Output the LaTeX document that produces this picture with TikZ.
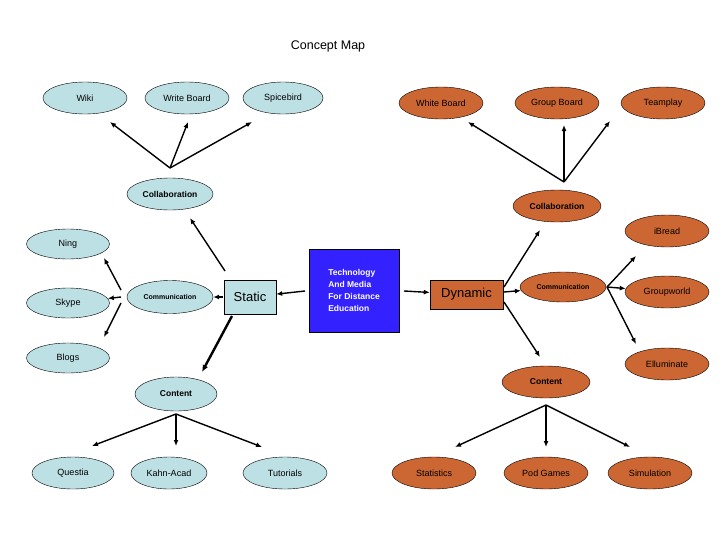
\documentclass[tikz,border=0pt]{standalone}
\usepackage{fontspec}
\setmainfont{Liberation Sans}
\usetikzlibrary{arrows.meta,shapes.geometric}
\definecolor{lb}{HTML}{BDE0E4}
\definecolor{org}{HTML}{CC6633}
\definecolor{cblue}{HTML}{3322FF}
\begin{document}
\begin{tikzpicture}[x=1pt,y=-1pt,
  el/.style={draw=black,ellipse,minimum width=84pt,minimum height=32pt,inner sep=0pt,font=\fontsize{9}{10}\selectfont},
  lel/.style={el,fill=lb},
  oel/.style={el,fill=org},
  bld/.style={font=\fontsize{8.5}{10}\selectfont\bfseries},
  sm/.style={font=\fontsize{7}{8}\selectfont\bfseries},
  arr/.style={-{Latex[length=6pt,width=5pt]},line width=1.4pt},
  barr/.style={-{Latex[length=7pt,width=6pt]},line width=2.4pt}]
\useasboundingbox[fill=white] (0,0) rectangle (728,546);
\node (title) at (328,46) {\fontsize{12.5}{14}\selectfont Concept Map};
% centre
\node (tech) [draw=black,fill=cblue,minimum width=90pt,minimum height=83pt,text=white,align=left,font=\fontsize{8.5}{12}\selectfont\bfseries,inner sep=0pt] at (354,290.5) {Technology\\And Media\\For Distance\\Education};
\node (static) [draw=black,fill=lb,minimum width=52pt,minimum height=34pt,inner sep=0pt,font=\fontsize{13}{15}\selectfont] at (250,297) {Static};
\node (dyn) [draw=black,fill=org,minimum width=73pt,minimum height=29pt,inner sep=0pt,font=\fontsize{13}{15}\selectfont] at (466.5,294.5) {Dynamic};
% left
\node[lel] (wiki) at (85,98) {Wiki};
\node[lel] (wb) at (187,98) {Write Board};
\node[lel,minimum width=80pt] (spice) at (283,98) {Spicebird};
\node[lel,bld,minimum width=86pt] (lcol) at (170,194) {Collaboration};
\node[lel,minimum width=83pt,minimum height=30pt] (ning) at (68,244) {Ning};
\node[lel,minimum width=83pt,minimum height=30pt] (skype) at (68,303) {Skype};
\node[lel,minimum width=83pt,minimum height=30pt] (blogs) at (68,358) {Blogs};
\node[lel,sm,minimum width=86pt,minimum height=33pt] (lcom) at (170,297) {Communication};
\node[lel,bld,minimum width=82pt,minimum height=34pt] (lcon) at (176,394) {Content};
\node[lel,minimum width=82pt] (questia) at (73,473) {Questia};
\node[lel,minimum width=76pt] (kahn) at (169,473) {Kahn-Acad};
\node[lel] (tut) at (285,473) {Tutorials};
% right
\node[oel] (whb) at (441,103) {White Board};
\node[oel] (gb) at (557,103) {Group Board};
\node[oel] (team) at (663,103) {Teamplay};
\node[oel,bld,minimum width=88pt] (rcol) at (557,206) {Collaboration};
\node[oel,sm,minimum width=86pt,minimum height=30pt] (rcom) at (563,287) {Communication};
\node[oel,bld,minimum width=88pt] (rcon) at (546,382) {Content};
\node[oel] (ibread) at (667,231) {iBread};
\node[oel] (gw) at (667,292) {Groupworld};
\node[oel] (ell) at (667,364) {Elluminate};
\node[oel] (stat) at (434,473) {Statistics};
\node[oel] (pod) at (546,473) {Pod Games};
\node[oel] (sim) at (650,473) {Simulation};
% hubs / ends
\coordinate (lh1) at (170,168); \coordinate (lh2) at (122,297); \coordinate (lh3) at (176,414);
\coordinate (rh1) at (564,182); \coordinate (rh2) at (607,287); \coordinate (rh3) at (546,405);
\coordinate (ls) at (225,271); \coordinate (ls2) at (232,316); \coordinate (ls3) at (223,297);
\coordinate (rd) at (504,287); \coordinate (rd2) at (504,302); \coordinate (rd3) at (504,292);
\coordinate (tl) at (305,291); \coordinate (tr) at (404,291);
% left arrows
\draw[arr] (lh1) -- (110,122);
\draw[arr] (lh1) -- (188,122);
\draw[arr] (lh1) -- (252,122);
\draw[arr] (ls) -- (190,218);
\draw[arr] (ls3) -- (lcom);
\draw[arr] (121,290) -- (104,258);
\draw[arr] (121,297) -- (skype);
\draw[arr] (121,303) -- (104,337);
\draw[barr] (ls2) -- (202,372);
\draw[arr] (lh3) -- (92,446);
\draw[arr] (lh3) -- (176,446);
\draw[arr] (lh3) -- (262,447);
\draw[arr] (tl) -- (static);
\draw[arr] (tr) -- (dyn);
% right arrows
\draw[arr] (rh1) -- (468,122);
\draw[arr] (rh1) -- (564,125);
\draw[arr] (rh1) -- (610,121);
\draw[arr] (rd) -- (540,230);
\draw[arr] (rd3) -- (rcom);
\draw[arr] (rd2) -- (540,357);
\draw[arr] (rh2) -- (636,256);
\draw[arr] (rh2) -- (gw);
\draw[arr] (rh2) -- (636,344);
\draw[arr] (rh3) -- (455,447);
\draw[arr] (rh3) -- (546,447);
\draw[arr] (rh3) -- (630,447);
\end{tikzpicture}
\end{document}
